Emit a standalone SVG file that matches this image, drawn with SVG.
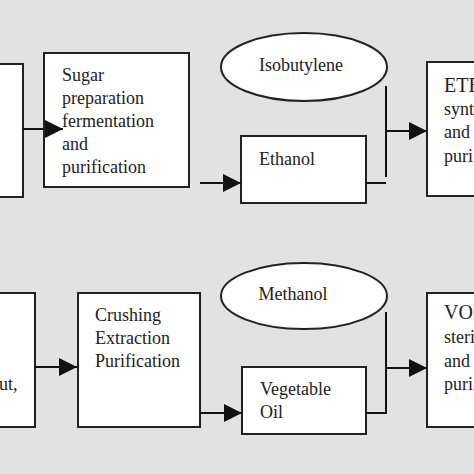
<svg xmlns="http://www.w3.org/2000/svg" width="474" height="474" viewBox="0 0 474 474">
  <defs>
    <marker id="arr" viewBox="0 0 18 18" refX="18" refY="9" markerWidth="18" markerHeight="18" markerUnits="userSpaceOnUse" orient="auto">
      <path d="M0,0 L18,9 L0,18 Z" fill="#111"/>
    </marker>
    <style>
      .box { fill: #fff; stroke: #222; stroke-width: 2; }
      .t { font-family: "Liberation Serif", "Times New Roman", serif; font-size: 18px; fill: #222; }
      .big { font-size: 20px; }
      .ln { fill: none; stroke: #111; stroke-width: 2; }
      .ar { fill: none; stroke: #111; stroke-width: 2; marker-end: url(#arr); }
    </style>
  </defs>
  <rect x="0" y="0" width="474" height="474" fill="#e2e2e2"/>

  <g id="feedstock-top">
    <rect class="box" x="-10" y="64" width="33" height="133"/>
  </g>
  <g id="sugar">
    <rect class="box" x="44" y="53" width="145" height="134"/>
    <text class="t" x="62" y="81">Sugar</text>
    <text class="t" x="62" y="104">preparation</text>
    <text class="t" x="62" y="127">fermentation</text>
    <text class="t" x="62" y="150">and</text>
    <text class="t" x="62" y="173">purification</text>
  </g>
  <g id="isobutylene">
    <ellipse class="box" cx="304" cy="67" rx="83" ry="34"/>
    <text class="t" x="301" y="71" text-anchor="middle">Isobutylene</text>
  </g>
  <g id="ethanol">
    <rect class="box" x="241" y="136" width="125" height="67"/>
    <text class="t" x="259" y="165">Ethanol</text>
  </g>
  <g id="etbe">
    <rect class="box" x="427" y="62" width="60" height="134"/>
    <text class="t big" x="444" y="92">ETBE</text>
    <text class="t" x="444" y="115">synt</text>
    <text class="t" x="444" y="138">and</text>
    <text class="t" x="444" y="162">puri</text>
  </g>

  <g id="feedstock-bottom">
    <rect class="box" x="-10" y="293" width="45" height="134"/>
    <text class="t" x="-1" y="390">ut,</text>
  </g>
  <g id="crushing">
    <rect class="box" x="78" y="293" width="122" height="134"/>
    <text class="t" x="95" y="321">Crushing</text>
    <text class="t" x="95" y="344">Extraction</text>
    <text class="t" x="95" y="367">Purification</text>
  </g>
  <g id="methanol">
    <ellipse class="box" cx="304" cy="296" rx="83" ry="33"/>
    <text class="t" x="293" y="300" text-anchor="middle">Methanol</text>
  </g>
  <g id="vegetable-oil">
    <rect class="box" x="242" y="367" width="124" height="67"/>
    <text class="t" x="260" y="395">Vegetable</text>
    <text class="t" x="260" y="418">Oil</text>
  </g>
  <g id="vome">
    <rect class="box" x="427" y="293" width="60" height="134"/>
    <text class="t big" x="444" y="319">VOME</text>
    <text class="t" x="444" y="343">steri</text>
    <text class="t" x="444" y="367">and</text>
    <text class="t" x="444" y="390">puri</text>
  </g>

  <g id="connectors">
    <line class="ar" x1="23" y1="129" x2="63" y2="129"/>
    <line class="ar" x1="200" y1="183" x2="241" y2="183"/>
    <polyline class="ln" points="366,183 386,183"/>
    <line class="ln" x1="386" y1="86" x2="386" y2="177"/>
    <line class="ar" x1="386" y1="131" x2="427" y2="131"/>

    <line class="ar" x1="35" y1="367" x2="77" y2="367"/>
    <line class="ar" x1="200" y1="413" x2="242" y2="413"/>
    <polyline class="ln" points="366,413 386,413 386,312"/>
    <line class="ar" x1="386" y1="368" x2="427" y2="368"/>
  </g>
</svg>
